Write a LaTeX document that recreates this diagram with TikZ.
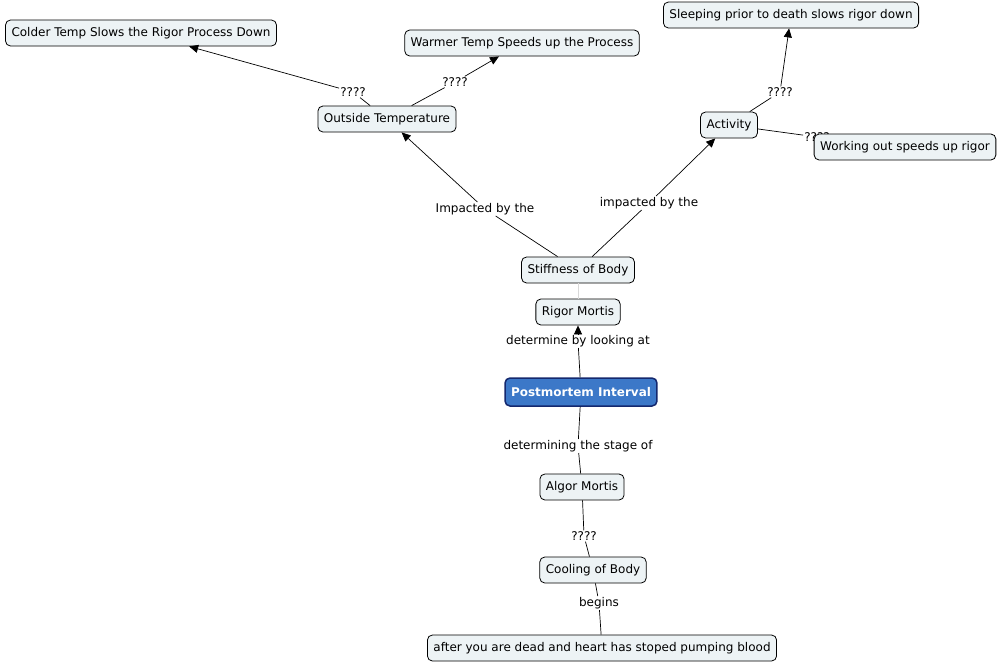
\documentclass[tikz,border=0pt]{standalone}
\usepackage{fontspec}
\setmainfont{DejaVu Sans}
\usetikzlibrary{arrows.meta}
\begin{document}
\begin{tikzpicture}[x=1pt,y=-1pt,
  concept/.style={draw=black,line width=0.8pt,fill={rgb,255:red,237;green,243;blue,245},rounded corners=5pt,minimum height=26pt,inner xsep=6pt,font=\fontsize{12}{14}\selectfont},
  lab/.style={fill=white,inner sep=1pt,font=\fontsize{12}{14}\selectfont},
  ln/.style={draw=black,line width=0.7pt},
  arr/.style={ln,-{Triangle[length=9pt,width=8pt]}}]
\useasboundingbox (0,0) rectangle (1001,665);
\fill[white] (0,0) rectangle (1001,665);
% labels
\node[lab] (l1) at (353,92) {????};
\node[lab] (l2) at (455,82) {????};
\node[lab] (l3) at (485,209) {Impacted by the};
\node[lab] (l4) at (649,203) {impacted by the};
\node[lab] (l5) at (780,92) {????};
\node[lab] (l6) at (817,137) {????};
\node[lab] (l7) at (578,341) {determine by looking at};
\node[lab] (l8) at (578,446) {determining the stage of};
\node[lab] (l9) at (584,536) {????};
\node[lab] (l10) at (599,603) {begins};
% concepts
\node[concept] (colder) at (141,33) {Colder Temp Slows the Rigor Process Down};
\node[concept] (warmer) at (522,43) {Warmer Temp Speeds up the Process};
\node[concept] (sleep) at (791,15) {Sleeping prior to death slows rigor down};
\node[concept] (out) at (387,119) {Outside Temperature};
\node[concept] (act) at (729,125) {Activity};
\node[concept] (stiff) at (578,270) {Stiffness of Body};
\node[concept] (rigor) at (578,312) {Rigor Mortis};
\node[concept,fill={rgb,255:red,60;green,120;blue,200},draw={rgb,255:red,20;green,40;blue,110},line width=1.5pt,text=white,font=\fontsize{12}{14}\selectfont\bfseries,minimum height=28pt] (pmi) at (581,392) {Postmortem Interval};
\node[concept] (algor) at (582,487) {Algor Mortis};
\node[concept] (cool) at (593,570) {Cooling of Body};
\node[concept] (after) at (602,648) {after you are dead and heart has stoped pumping blood};
% connectors
\draw[ln] (out) -- (l1); \draw[arr] (l1) -- (colder);
\draw[ln] (out) -- (l2); \draw[arr] (l2) -- (warmer);
\draw[ln] (stiff) -- (l3); \draw[arr] (l3) -- (out);
\draw[ln] (stiff) -- (l4); \draw[arr] (l4) -- (act);
\draw[ln] (act) -- (l5); \draw[arr] (l5) -- (sleep);
\draw[ln] (act) -- (l6);
\draw[gray!30,line width=0.7pt] (stiff) -- (rigor);
\draw[ln] (pmi) -- (l7); \draw[arr] (l7) -- (rigor);
\draw[ln] (pmi) -- (l8); \draw[ln] (l8) -- (algor);
\draw[ln] (algor) -- (l9); \draw[ln] (l9) -- (cool);
\draw[ln] (cool) -- (l10); \draw[ln] (l10) -- (after);
\node[concept] (work) at (905,147) {Working out speeds up rigor};
\end{tikzpicture}
\end{document}
